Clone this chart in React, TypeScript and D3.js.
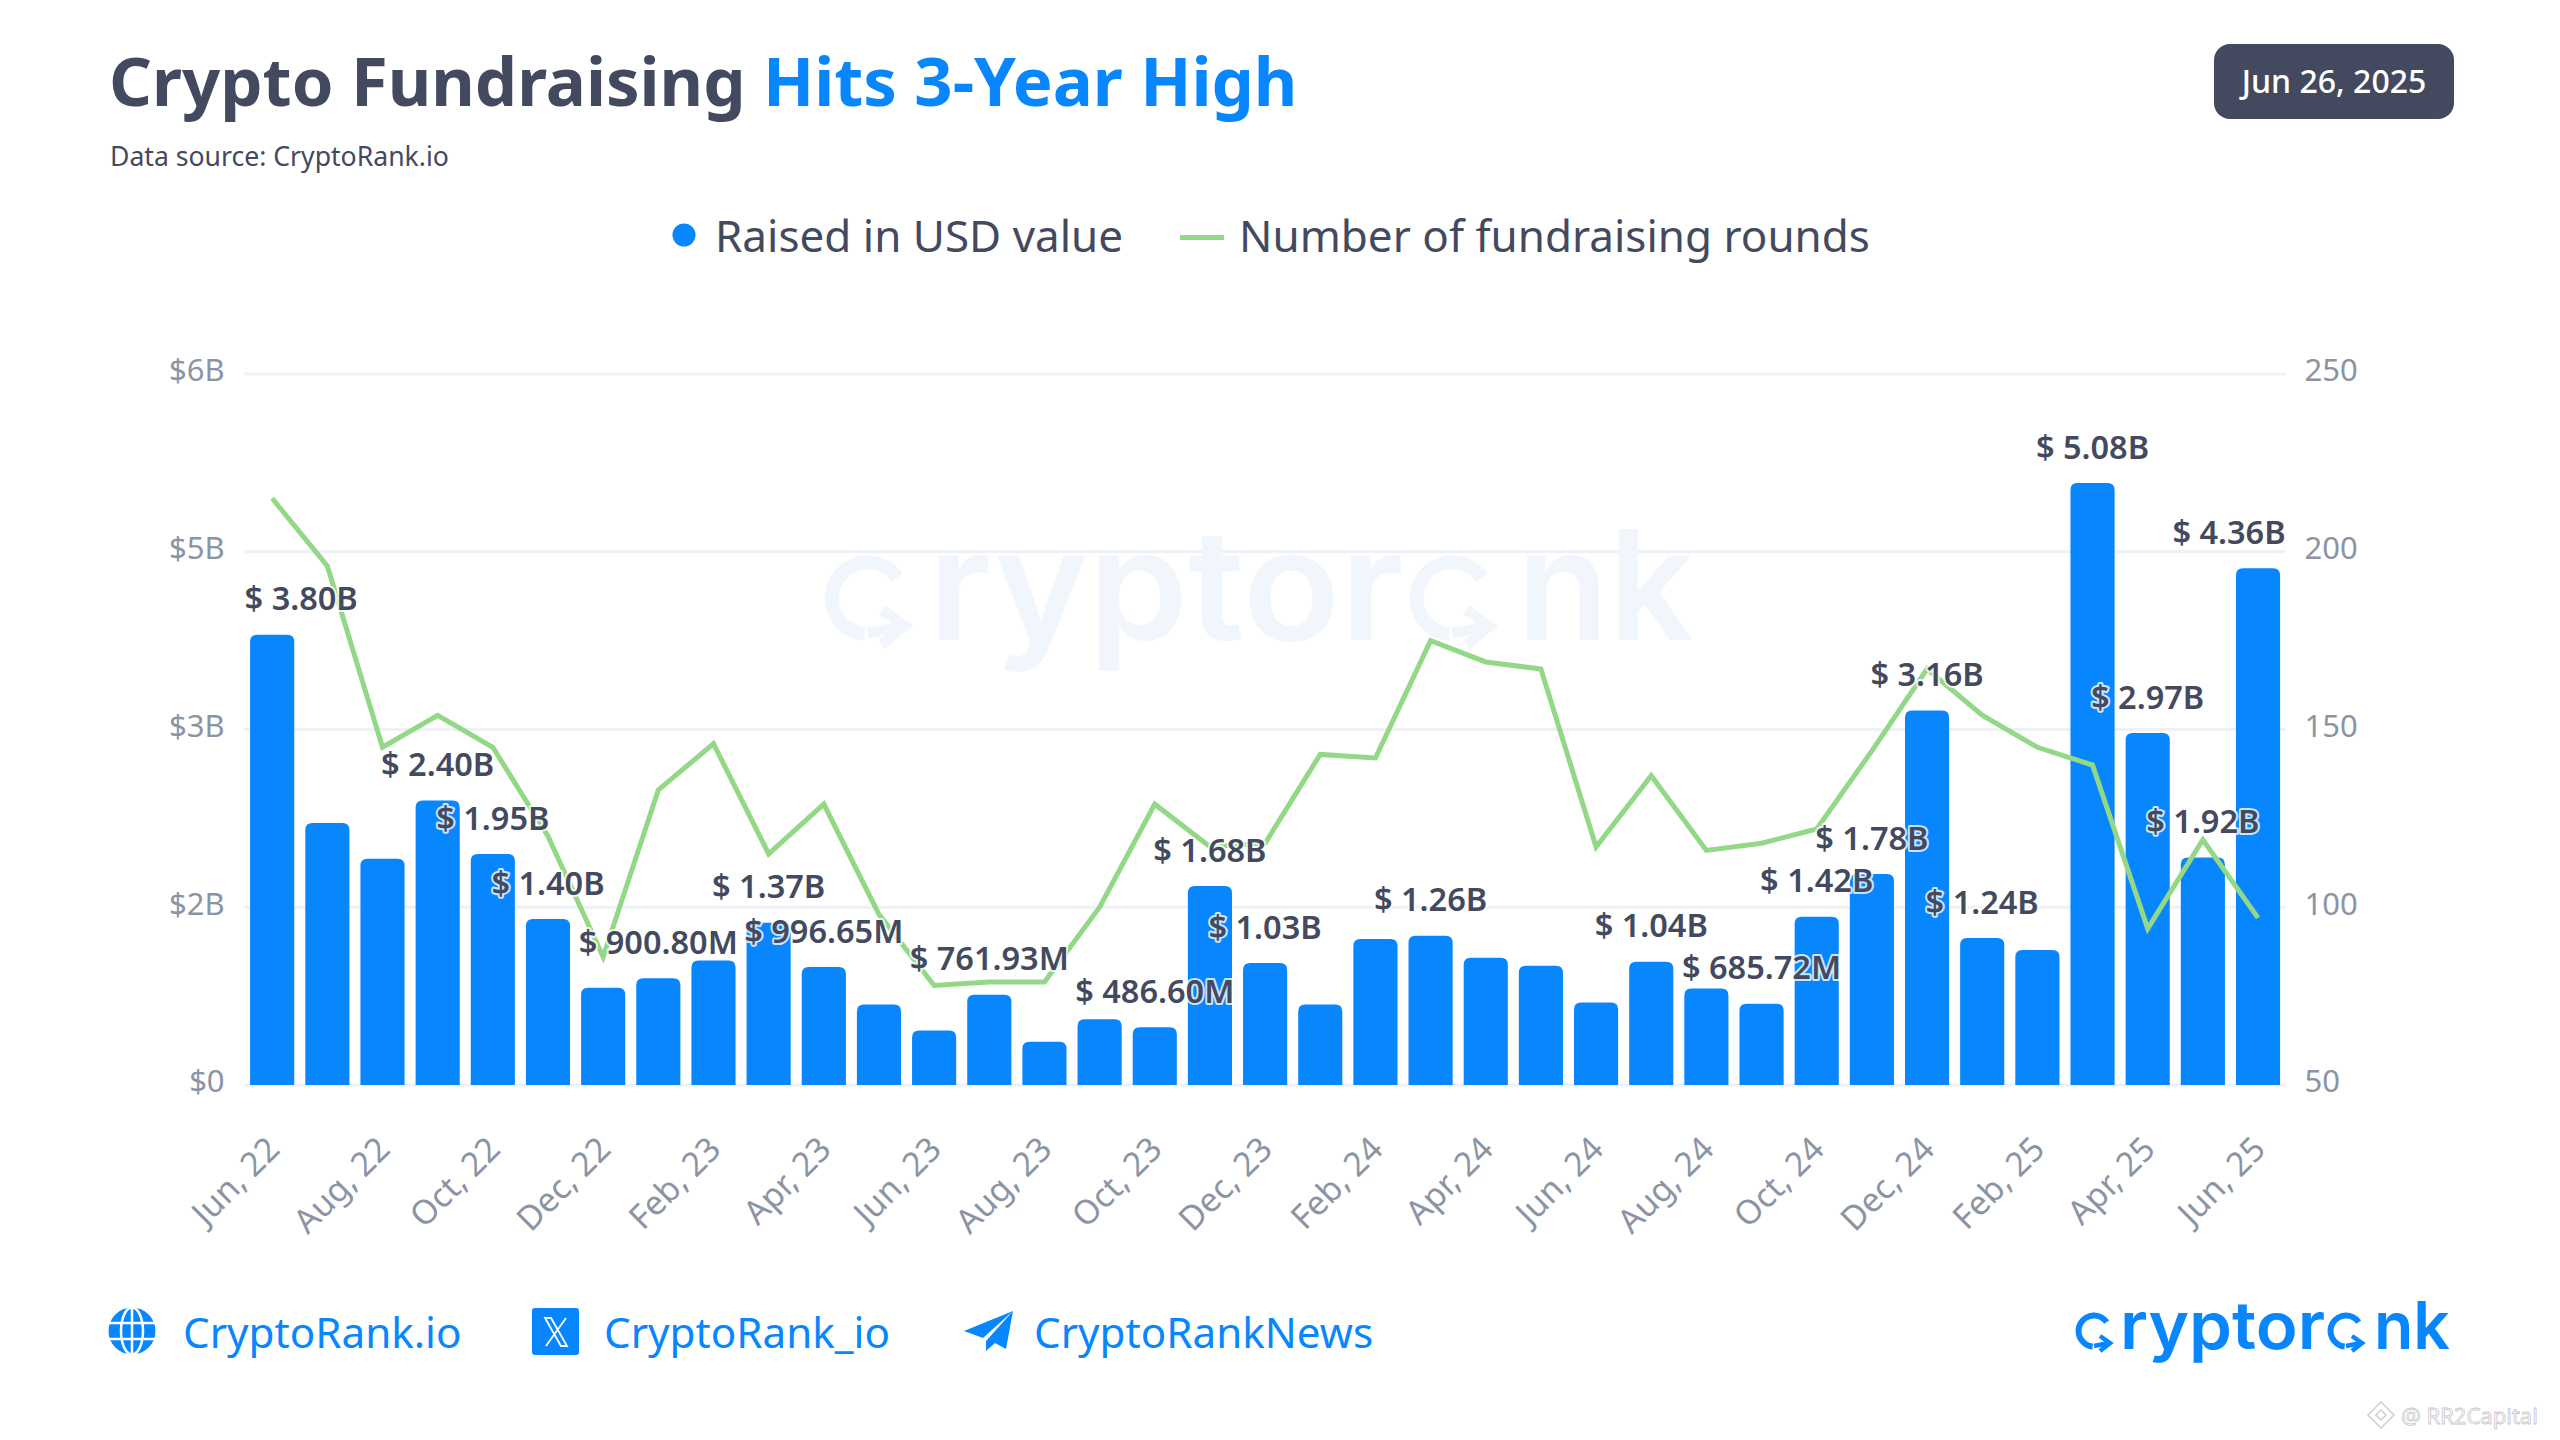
import React, { useEffect, useRef } from 'react';
import * as d3 from 'd3';

const months = [
  'Jun, 22', 'Jul, 22', 'Aug, 22', 'Sep, 22', 'Oct, 22', 'Nov, 22', 'Dec, 22',
  'Jan, 23', 'Feb, 23', 'Mar, 23', 'Apr, 23', 'May, 23', 'Jun, 23', 'Jul, 23',
  'Aug, 23', 'Sep, 23', 'Oct, 23', 'Nov, 23', 'Dec, 23', 'Jan, 24', 'Feb, 24',
  'Mar, 24', 'Apr, 24', 'May, 24', 'Jun, 24', 'Jul, 24', 'Aug, 24', 'Sep, 24',
  'Oct, 24', 'Nov, 24', 'Dec, 24', 'Jan, 25', 'Feb, 25', 'Mar, 25', 'Apr, 25',
  'May, 25', 'Jun, 25',
];

const raised = [
  3.8, 2.21, 1.91, 2.4, 1.95, 1.4, 0.82, 0.9008, 1.05, 1.37, 0.99665, 0.68,
  0.46, 0.76193, 0.365, 0.554, 0.4866, 1.68, 1.03, 0.68, 1.232, 1.26, 1.074,
  1.006, 0.697, 1.04, 0.815, 0.68572, 1.42, 1.78, 3.16, 1.24, 1.14, 5.08, 2.97,
  1.92, 4.36,
];

const rounds = [
  215, 196, 145, 154, 145, 120, 86, 133, 146, 115, 129, 98, 78, 79, 79, 100,
  129, 117, 118, 143, 142, 175, 169, 167, 117, 137, 116, 118, 122, 144, 167,
  154, 145, 140, 94, 119, 97,
];

const valueLabels: Record<string, string> = {
  'Jun, 22': '$ 3.80B',
  'Sep, 22': '$ 2.40B',
  'Oct, 22': '$ 1.95B',
  'Nov, 22': '$ 1.40B',
  'Jan, 23': '$ 900.80M',
  'Mar, 23': '$ 1.37B',
  'Apr, 23': '$ 996.65M',
  'Jul, 23': '$ 761.93M',
  'Oct, 23': '$ 486.60M',
  'Nov, 23': '$ 1.68B',
  'Dec, 23': '$ 1.03B',
  'Mar, 24': '$ 1.26B',
  'Jul, 24': '$ 1.04B',
  'Sep, 24': '$ 685.72M',
  'Oct, 24': '$ 1.42B',
  'Nov, 24': '$ 1.78B',
  'Dec, 24': '$ 3.16B',
  'Jan, 25': '$ 1.24B',
  'Mar, 25': '$ 5.08B',
  'Apr, 25': '$ 2.97B',
  'May, 25': '$ 1.92B',
  'Jun, 25': '$ 4.36B',
};

const leftTicks = [0, 1.5, 3, 4.5, 6];
const rightTicks = [50, 100, 150, 200, 250];

const FONT = '"Noto Sans", sans-serif';
const BLUE = '#0786fe';
const DARK = '#434a60';
const GREEN = '#93d886';
const GREY = '#8b94a5';

type Sel = d3.Selection<SVGGElement, unknown, null, undefined>;

// cryptorank wordmark, origin at left end of the baseline
function drawLogo(parent: Sel, x: number, y: number, k: number, color: string) {
  const g = parent.append('g').attr('transform', `translate(${x},${y}) scale(${k})`);
  const arc = d3.arc<unknown>()
    .innerRadius(12.5)
    .outerRadius(18.5)
    .startAngle(55 * Math.PI / 180)
    .endAngle(-175 * Math.PI / 180);

  [18, 270].forEach(cx => {
    g.append('path').attr('d', arc(null)).attr('transform', `translate(${cx},-18)`).attr('fill', color);
    g.append('path')
      .attr('d', `M${cx},-3 L${cx + 15},-6 M${cx + 6},-13 L${cx + 16},-6 L${cx + 6},2`)
      .attr('fill', 'none')
      .attr('stroke', color)
      .attr('stroke-width', 4.5);
  });

  const word = (txt: string, tx: number, w: number) =>
    g.append('text')
      .attr('x', tx)
      .attr('y', 0)
      .attr('textLength', w)
      .attr('lengthAdjust', 'spacingAndGlyphs')
      .style('font-family', 'Inter, sans-serif')
      .style('font-weight', 600)
      .style('font-size', '66px')
      .attr('fill', color)
      .text(txt);
  word('ryptor', 44, 205);
  word('nk', 298, 76);
}

export default function App() {
  const svgRef = useRef<SVGSVGElement>(null);

  useEffect(() => {
    if (!svgRef.current) return;
    const svg = d3.select(svgRef.current);
    svg.selectAll('*').remove();
    const root = svg.append('g') as unknown as Sel;

    const left = 244.6;
    const right = 2285.6;
    const top = 374;
    const bottom = 1085;

    const x = d3.scaleBand<string>().domain(months).range([left, right]).paddingInner(0.2).paddingOuter(0.1);
    const yLeft = d3.scaleLinear().domain([0, 6]).range([bottom, top]);
    const yRight = d3.scaleLinear().domain([50, 250]).range([bottom, top]);

    // header
    const title = root.append('text')
      .attr('x', 109).attr('y', 106)
      .style('font-family', FONT).style('font-weight', 700).style('font-size', '67px');
    title.append('tspan').attr('fill', DARK).text('Crypto Fundraising ');
    title.append('tspan').attr('fill', BLUE).text('Hits 3-Year High');

    root.append('text')
      .attr('x', 110).attr('y', 166)
      .style('font-family', FONT).style('font-size', '26.6px')
      .attr('fill', DARK)
      .text('Data source: CryptoRank.io');

    root.append('rect')
      .attr('x', 2214).attr('y', 44).attr('width', 240).attr('height', 75).attr('rx', 16)
      .attr('fill', DARK);
    root.append('text')
      .attr('x', 2334).attr('y', 93).attr('text-anchor', 'middle')
      .style('font-family', FONT).style('font-weight', 500).style('font-size', '32px')
      .attr('fill', '#fff')
      .text('Jun 26, 2025');

    // legend
    root.append('circle').attr('cx', 684).attr('cy', 235).attr('r', 11.5).attr('fill', BLUE);
    root.append('text')
      .attr('x', 715).attr('y', 252)
      .style('font-family', FONT).style('font-size', '44px').attr('fill', DARK)
      .text('Raised in USD value');
    root.append('rect').attr('x', 1180).attr('y', 235).attr('width', 44).attr('height', 5).attr('fill', GREEN);
    root.append('text')
      .attr('x', 1239).attr('y', 252)
      .style('font-family', FONT).style('font-size', '44px').attr('fill', DARK)
      .text('Number of fundraising rounds');

    // grid
    root.append('g').selectAll('line').data(leftTicks).enter().append('line')
      .attr('x1', left).attr('x2', right)
      .attr('y1', d => yLeft(d)).attr('y2', d => yLeft(d))
      .attr('stroke', '#eef1f6').attr('stroke-width', 3);

    drawLogo(root, 826, 640, 2.32, '#f1f6fc');

    // axes
    const styleAxis = (g: d3.Selection<SVGGElement, unknown, null, undefined>) => {
      g.select('.domain').remove();
      g.selectAll('text')
        .style('font-family', FONT)
        .style('font-size', '31px')
        .attr('dy', '0.22em')
        .attr('fill', GREY);
    };

    const axisL = root.append('g').attr('transform', `translate(${left},0)`);
    axisL.call(d3.axisLeft(yLeft).tickValues(leftTicks).tickSize(0).tickPadding(20)
      .tickFormat(d => (+d === 0 ? '$0' : `$${Math.round(+d)}B`)));
    styleAxis(axisL);

    const axisR = root.append('g').attr('transform', `translate(${right},0)`);
    axisR.call(d3.axisRight(yRight).tickValues(rightTicks).tickSize(0).tickPadding(19));
    styleAxis(axisR);

    const axisX = root.append('g').attr('transform', `translate(0,${bottom})`);
    axisX.call(d3.axisBottom(x).tickValues(months.filter((_, i) => i % 2 === 0)).tickSize(0));
    styleAxis(axisX);
    axisX.selectAll('text')
      .style('font-size', '33.5px')
      .attr('text-anchor', 'end')
      .attr('transform', 'translate(1,58) rotate(-45)')
      .attr('dy', '0.35em')
      .attr('y', 0);

    // bars, top corners rounded
    const r = 7;
    root.append('g').selectAll('path').data(months).enter().append('path')
      .attr('fill', BLUE)
      .attr('d', (m, i) => {
        const x0 = x(m)!;
        const x1 = x0 + x.bandwidth();
        const y0 = yLeft(raised[i]);
        const p = d3.path();
        p.moveTo(x0, bottom);
        p.lineTo(x0, y0 + r);
        p.quadraticCurveTo(x0, y0, x0 + r, y0);
        p.lineTo(x1 - r, y0);
        p.quadraticCurveTo(x1, y0, x1, y0 + r);
        p.lineTo(x1, bottom);
        p.closePath();
        return p.toString();
      });

    // rounds line
    const line = d3.line<number>()
      .x((_, i) => x(months[i])! + x.bandwidth() / 2)
      .y(d => yRight(d));
    root.append('path')
      .attr('d', line(rounds))
      .attr('fill', 'none')
      .attr('stroke', GREEN)
      .attr('stroke-width', 5);

    // value labels, first and last are held inside the plot
    root.append('g').selectAll('text')
      .data(months.filter(m => valueLabels[m]))
      .enter().append('text')
      .attr('x', m => {
        if (m === months[0]) return left;
        if (m === months[months.length - 1]) return right;
        return x(m)! + x.bandwidth() / 2;
      })
      .attr('y', m => yLeft(raised[months.indexOf(m)]) - 36)
      .attr('dy', '0.36em')
      .attr('text-anchor', m => (m === months[0] ? 'start' : m === months[months.length - 1] ? 'end' : 'middle'))
      .style('font-family', FONT)
      .style('font-weight', 600)
      .style('font-size', '32.5px')
      .style('paint-order', 'stroke')
      .attr('stroke', 'rgba(255,255,255,0.8)')
      .attr('stroke-width', 4)
      .attr('stroke-linejoin', 'round')
      .attr('fill', DARK)
      .text(m => valueLabels[m]);

    // footer
    const footerText = (txt: string, tx: number) =>
      root.append('text')
        .attr('x', tx).attr('y', 1348)
        .style('font-family', FONT).style('font-size', '42.2px').attr('fill', BLUE)
        .text(txt);

    const globe = root.append('g').attr('transform', 'translate(132,1331)');
    globe.append('circle').attr('r', 23.5).attr('fill', BLUE);
    globe.append('ellipse').attr('rx', 11).attr('ry', 23.5).attr('fill', 'none').attr('stroke', '#fff').attr('stroke-width', 2.5);
    globe.append('line').attr('y1', -23.5).attr('y2', 23.5).attr('stroke', '#fff').attr('stroke-width', 2.5);
    [-8, 8].forEach(dy => {
      globe.append('line').attr('x1', -24).attr('x2', 24).attr('y1', dy).attr('y2', dy).attr('stroke', '#fff').attr('stroke-width', 2.5);
    });
    footerText('CryptoRank.io', 183);

    root.append('rect').attr('x', 532).attr('y', 1308).attr('width', 47).attr('height', 47).attr('rx', 3).attr('fill', BLUE);
    root.append('path')
      .attr('d', 'M545,1318 L551,1318 L567,1346 L561,1346 Z M566,1318 L546,1346')
      .attr('fill', 'none').attr('stroke', '#fff').attr('stroke-width', 1.8);
    footerText('CryptoRank_io', 604);

    root.append('path')
      .attr('d', 'M1013,1311 L964,1331 L983,1338 L1013,1311 L986,1341 L986,1351 L995,1343 L1006,1349 Z')
      .attr('fill', BLUE);
    footerText('CryptoRankNews', 1034);

    drawLogo(root, 2076, 1349, 1, BLUE);

    // repost watermark
    const tag = root.append('g').attr('transform', 'translate(2381,1415)');
    tag.append('path')
      .attr('d', 'M0,-13 L13,0 L0,13 L-13,0 Z M0,-5 L5,0 L0,5 L-5,0 Z')
      .attr('fill', '#fff').attr('stroke', '#cfcfcf').attr('stroke-width', 1.5);
    root.append('text')
      .attr('x', 2401).attr('y', 1424)
      .style('font-family', FONT).style('font-size', '22px')
      .attr('fill', '#fff').attr('stroke', '#c8c8c8').attr('stroke-width', 0.8)
      .text('@ RR2Capital');
  }, []);

  return (
    <svg
      ref={svgRef}
      width={2560}
      height={1440}
      viewBox="0 0 2560 1440"
      style={{ position: 'absolute', left: 0, top: 0, background: '#fff' }}
    />
  );
}
